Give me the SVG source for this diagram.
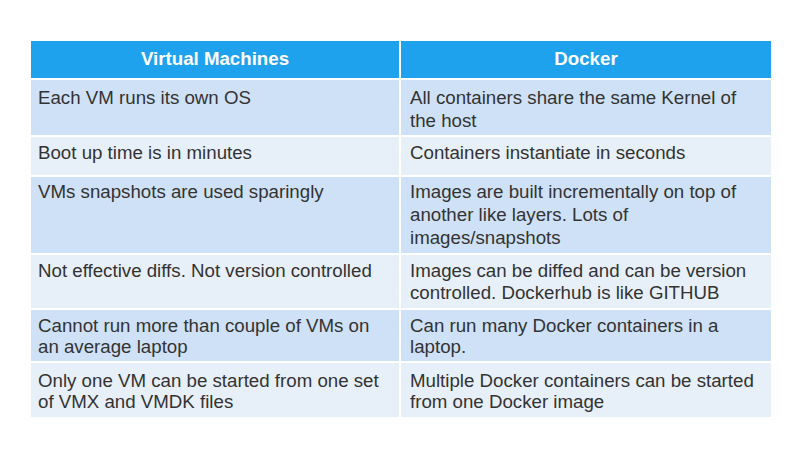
<svg xmlns="http://www.w3.org/2000/svg" width="800" height="465" viewBox="0 0 800 465">
<style>
.h{fill:#1ea2ee}.d{fill:#cfe1f6}.l{fill:#e7eff9}
.ht{font-family:"Liberation Sans",Arial,sans-serif;font-size:18.7px;font-weight:bold;fill:#fff;text-anchor:middle}
.t{font-family:"Liberation Sans",Arial,sans-serif;font-size:18.7px;fill:#333}
</style>
<rect width="800" height="465" fill="#fff"/>
<g id="header">
<rect class="h" x="31" y="41" width="368" height="37"/><rect class="h" x="401" y="41" width="370" height="37"/>
<text class="ht" x="215" y="65">Virtual Machines</text><text class="ht" x="586" y="65">Docker</text>
</g>
<g id="row1">
<rect class="d" x="31" y="80" width="368" height="55"/><rect class="d" x="401" y="80" width="370" height="55"/>
<text class="t" x="38" y="104">Each VM runs its own OS</text>
<text class="t" x="410" y="104">All containers share the same Kernel of</text><text class="t" x="410" y="127">the host</text>
</g>
<g id="row2">
<rect class="l" x="31" y="137" width="368" height="38"/><rect class="l" x="401" y="137" width="370" height="38"/>
<text class="t" x="38" y="159">Boot up time is in minutes</text>
<text class="t" x="410" y="159">Containers instantiate in seconds</text>
</g>
<g id="row3">
<rect class="d" x="31" y="177" width="368" height="76"/><rect class="d" x="401" y="177" width="370" height="76"/>
<text class="t" x="38" y="198">VMs snapshots are used sparingly</text>
<text class="t" x="410" y="198">Images are built incrementally on top of</text><text class="t" x="410" y="221">another like layers. Lots of</text><text class="t" x="410" y="244">images/snapshots</text>
</g>
<g id="row4">
<rect class="l" x="31" y="255" width="368" height="53"/><rect class="l" x="401" y="255" width="370" height="53"/>
<text class="t" x="38" y="277">Not effective diffs. Not version controlled</text>
<text class="t" x="410" y="277">Images can be diffed and can be version</text><text class="t" x="410" y="299">controlled. Dockerhub is like GITHUB</text>
</g>
<g id="row5">
<rect class="d" x="31" y="310" width="368" height="51"/><rect class="d" x="401" y="310" width="370" height="51"/>
<text class="t" x="38" y="332">Cannot run more than couple of VMs on</text><text class="t" x="38" y="353">an average laptop</text>
<text class="t" x="410" y="332">Can run many Docker containers in a</text><text class="t" x="410" y="353">laptop.</text>
</g>
<g id="row6">
<rect class="l" x="31" y="363" width="368" height="54"/><rect class="l" x="401" y="363" width="370" height="54"/>
<text class="t" x="38" y="387">Only one VM can be started from one set</text><text class="t" x="38" y="408">of VMX and VMDK files</text>
<text class="t" x="410" y="387">Multiple Docker containers can be started</text><text class="t" x="410" y="408">from one Docker image</text>
</g>
</svg>
